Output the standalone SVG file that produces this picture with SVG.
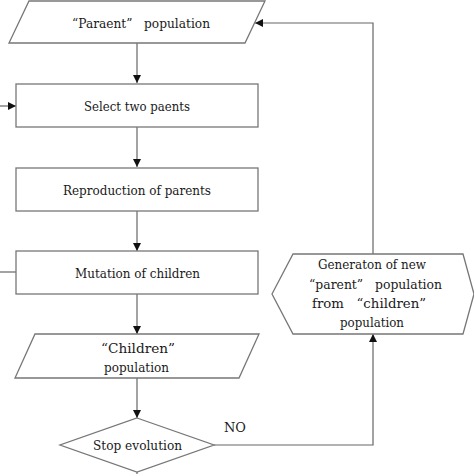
<svg xmlns="http://www.w3.org/2000/svg" width="474" height="474" viewBox="0 0 474 474">
<defs>
<marker id="arr" viewBox="0 0 10 10" refX="10" refY="5" markerWidth="8" markerHeight="8" markerUnits="userSpaceOnUse" orient="auto">
<path d="M0,0 L10,5 L0,10 Z" fill="#111"/>
</marker>
<style>
.shape{fill:#fff;stroke:#777;stroke-width:1.3}
.line{fill:none;stroke:#666;stroke-width:1.2}
.t{font-family:'DejaVu Serif','Liberation Serif',serif;font-size:13.5px;fill:#1a1a1a;white-space:pre}
</style>
</defs>
<rect width="474" height="474" fill="#fff"/>
<g id="connectors">
<line class="line" x1="137" y1="43" x2="137" y2="83" marker-end="url(#arr)"/>
<line class="line" x1="0" y1="106" x2="16" y2="106" marker-end="url(#arr)"/>
<line class="line" x1="137" y1="127" x2="137" y2="167" marker-end="url(#arr)"/>
<line class="line" x1="137" y1="211" x2="137" y2="251" marker-end="url(#arr)"/>
<line class="line" x1="0" y1="272" x2="16" y2="272"/>
<line class="line" x1="137" y1="294" x2="137" y2="334" marker-end="url(#arr)"/>
<line class="line" x1="137" y1="378" x2="137" y2="418" marker-end="url(#arr)"/>
<line class="line" x1="137" y1="472" x2="137" y2="474"/>
<polyline class="line" points="214,445 373,445 373,334" marker-end="url(#arr)"/>
<polyline class="line" points="373,254 373,23 255,23" marker-end="url(#arr)"/>
<text class="t" x="224" y="432" textLength="22" lengthAdjust="spacingAndGlyphs">NO</text>
</g>
<g id="parent-population">
<polygon class="shape" points="29,1 265,1 245,43 9,43"/>
<text class="t" x="72" y="28" xml:space="preserve" textLength="138" lengthAdjust="spacingAndGlyphs">“Paraent”   population</text>
</g>
<g id="select">
<rect class="shape" x="16" y="84" width="242" height="43"/>
<text class="t" x="84" y="111" textLength="106" lengthAdjust="spacingAndGlyphs">Select two paents</text>
</g>
<g id="reproduction">
<rect class="shape" x="16" y="168" width="242" height="43"/>
<text class="t" x="63" y="195" textLength="148" lengthAdjust="spacingAndGlyphs">Reproduction of parents</text>
</g>
<g id="mutation">
<rect class="shape" x="16" y="251" width="242" height="43"/>
<text class="t" x="75" y="278" textLength="125" lengthAdjust="spacingAndGlyphs">Mutation of children</text>
</g>
<g id="children-population">
<polygon class="shape" points="35,334 259,334 239,378 15,378"/>
<text class="t" x="101" y="353" textLength="74" lengthAdjust="spacingAndGlyphs">“Children”</text>
<text class="t" x="104" y="372" textLength="65" lengthAdjust="spacingAndGlyphs">population</text>
</g>
<g id="stop">
<polygon class="shape" points="137,418 214,445 137,472 60,445"/>
<text class="t" x="93" y="450" textLength="89" lengthAdjust="spacingAndGlyphs">Stop evolution</text>
</g>
<g id="generation">
<polygon class="shape" points="272,294 293,254 463,254 474,294 463,334 293,334"/>
<text class="t" x="318" y="269" textLength="108" lengthAdjust="spacingAndGlyphs">Generaton of new</text>
<text class="t" x="309" y="289" xml:space="preserve" textLength="133" lengthAdjust="spacingAndGlyphs">“parent”   population</text>
<text class="t" x="312" y="308" xml:space="preserve" textLength="114" lengthAdjust="spacingAndGlyphs">from   “children”</text>
<text class="t" x="340" y="327" textLength="64" lengthAdjust="spacingAndGlyphs">population</text>
</g>
</svg>
